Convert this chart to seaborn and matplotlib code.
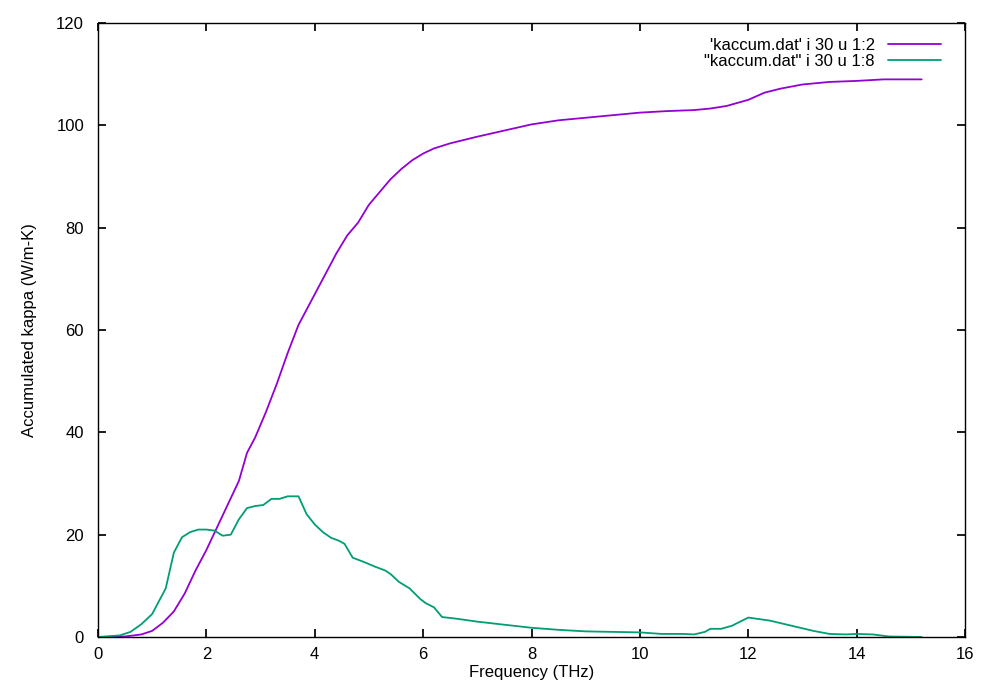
import seaborn as sns
import matplotlib.pyplot as plt
import pandas as pd

freq_a = [0, 0.5, 0.8, 1.0, 1.2, 1.4, 1.6, 1.8, 2.0, 2.2, 2.4, 2.6, 2.75, 2.9, 3.1, 3.3, 3.5,
          3.7, 3.8, 4.0, 4.2, 4.4, 4.6, 4.8, 5.0, 5.2, 5.4, 5.6, 5.8, 6.0, 6.2, 6.5, 7.0,
          7.5, 8.0, 8.5, 9.0, 9.5, 10.0, 10.5, 11.0, 11.3, 11.6, 12.0, 12.3, 12.6, 13.0,
          13.5, 14.0, 14.5, 15.2]
kappa_a = [0, 0.1, 0.5, 1.2, 2.8, 5, 8.5, 13, 17, 21.5, 26, 30.5, 36, 39, 44, 49.5, 55.5,
           61, 63, 67, 71, 75, 78.5, 81, 84.5, 87, 89.5, 91.5, 93.2, 94.5, 95.5, 96.5, 97.8,
           99, 100.2, 101, 101.5, 102, 102.5, 102.8, 103, 103.3, 103.8, 105, 106.4, 107.2, 108,
           108.5, 108.7, 109, 109]

freq_b = [0, 0.4, 0.6, 0.8, 1.0, 1.1, 1.25, 1.4, 1.55, 1.7, 1.85, 2.0, 2.15, 2.3, 2.45, 2.6,
          2.75, 2.9, 3.05, 3.2, 3.35, 3.5, 3.7, 3.85, 4.0, 4.15, 4.3, 4.45, 4.55, 4.7, 4.9,
          5.1, 5.3, 5.4, 5.55, 5.75, 5.95, 6.05, 6.2, 6.35, 6.6, 7.0, 7.5, 8.0, 8.5, 9.0,
          9.5, 10.0, 10.4, 10.8, 11.0, 11.2, 11.3, 11.5, 11.7, 12.0, 12.4, 12.8, 13.2, 13.5,
          13.8, 14.0, 14.3, 14.6, 15.2]
kappa_b = [0, 0.3, 1, 2.5, 4.5, 6.5, 9.5, 16.5, 19.5, 20.5, 21, 21, 20.8, 19.8, 20, 23,
           25.2, 25.6, 25.8, 27, 27, 27.5, 27.5, 24, 22, 20.5, 19.4, 18.8, 18.2, 15.5, 14.7,
           13.8, 13, 12.3, 10.8, 9.5, 7.4, 6.6, 5.8, 3.9, 3.6, 3, 2.4, 1.8, 1.4, 1.1,
           1, 0.9, 0.6, 0.6, 0.5, 1, 1.6, 1.6, 2.2, 3.8, 3.2, 2.2, 1.2, 0.6,
           0.5, 0.6, 0.5, 0.1, 0]

df = pd.concat([
    pd.DataFrame({"freq": freq_a, "kappa": kappa_a, "series": "'kaccum.dat' i 30 u 1:2"}),
    pd.DataFrame({"freq": freq_b, "kappa": kappa_b, "series": "\"kaccum.dat\" i 30 u 1:8"}),
])

sns.set_theme(style="ticks")
plt.rcParams['font.family'] = ['Liberation Sans', 'DejaVu Sans']
plt.rcParams['text.color'] = 'black'
plt.rcParams['axes.labelcolor'] = 'black'

fig, ax = plt.subplots(figsize=(10, 7), dpi=100)
sns.lineplot(data=df, x="freq", y="kappa", hue="series", sort=False,
             palette=["#9400D3", "#009E73"], linewidth=1.3, ax=ax)
ax.set_xlim(0, 16)
ax.set_ylim(0, 120)
ax.set_xticks(range(0, 17, 2))
ax.set_yticks(range(0, 121, 20))
ax.tick_params(direction="in", top=True, right=True, labelsize=12, length=6,
               colors="black")
ax.tick_params(axis="y", pad=10)
ax.tick_params(axis="x", pad=7)
for s in ax.spines.values():
    s.set_linewidth(1)
    s.set_color("black")
ax.set_xlabel("Frequency (THz)", fontsize=12, labelpad=2)
ax.set_ylabel("Accumulated kappa (W/m-K)", fontsize=12, labelpad=14)
leg = ax.legend(loc="upper right", frameon=False, fontsize=12, markerfirst=False,
                handlelength=3.2, borderaxespad=0.5, labelspacing=0.05,
                bbox_to_anchor=(0.99, 1.0))
fig.subplots_adjust(left=0.098, right=0.965, top=0.967, bottom=0.09)
fig.savefig("out.png")
